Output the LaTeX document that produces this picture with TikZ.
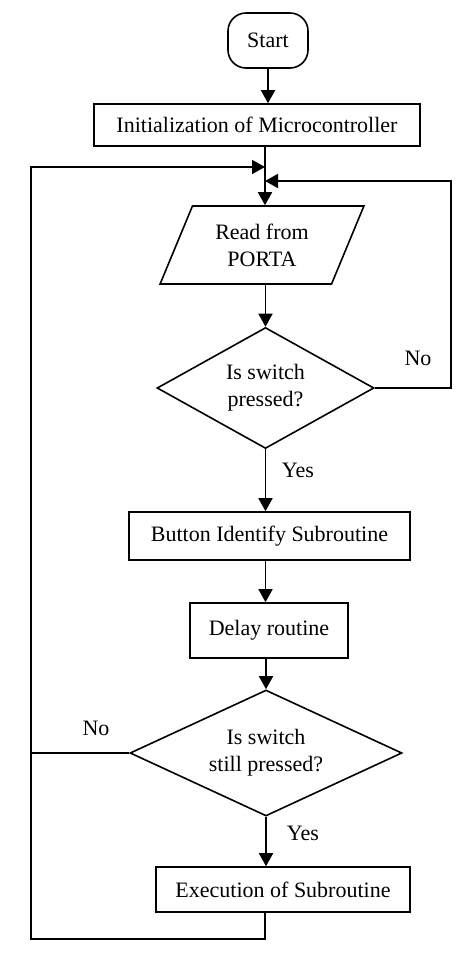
\documentclass[tikz,border=0pt]{standalone}
\usepackage{fontspec}
\setmainfont{Liberation Serif}
\usepackage{tikz}
\usetikzlibrary{shapes.geometric}
\usetikzlibrary{arrows.meta}
\tikzstyle{Block}=[rectangle,draw=black,line width=1.6pt,inner sep=0pt,
font=\fontsize{22}{27}\selectfont,align=center]
\tikzstyle{Terminal}=[Block,rounded corners=18pt]
\tikzstyle{Data}=[Block,trapezium,trapezium left angle=63,
trapezium right angle=117,trapezium stretches=true]
\tikzstyle{Decision}=[Block,diamond]
\tikzstyle{Edge}=[draw=black,line width=1.7pt]
\tikzstyle{Flow}=[Edge,-{Triangle[length=13pt,width=14pt]}]
\tikzstyle{NodeLbl}=[font=\fontsize{22}{27}\selectfont]
\begin{document}
\begin{tikzpicture}[x=1pt,y=-1pt]
            \useasboundingbox(0,0)rectangle(474,967);
            \node[Terminal,minimum width=80pt,minimum height=55pt](Start)
                at(268.00,40.50){Start};
            \node[Block,minimum width=326pt,minimum height=42pt](Init)
                at(257.00,125.00){Initialization of Microcontroller};
            \node[Data,minimum width=204pt,minimum height=78pt](Read)
                at(262.00,245.00){Read from\\PORTA};
            \node[Decision,aspect=1.8,minimum width=217pt,
                minimum height=121pt](Test1)
                at(265.50,388.00){Is switch\\pressed?};
            \node[Block,minimum width=281pt,minimum height=48pt](Ident)
                at(269.50,536.00){Button Identify Subroutine};
            \node[Block,minimum width=158pt,minimum height=55pt](Delay)
                at(269.00,630.50){Delay routine};
            \node[Decision,aspect=2.16,minimum width=272pt,
                minimum height=126pt](Test2)
                at(266.00,753.00){Is switch\\still pressed?};
            \node[Block,minimum width=254pt,minimum height=45pt](Exec)
                at(283.00,889.50){Execution of Subroutine};
            \node[NodeLbl](No1)at(418.00,358.00){No};
            \node[NodeLbl](Yes1)at(298.00,470.00){Yes};
            \node[NodeLbl](No2)at(96.00,728.00){No};
            \node[NodeLbl](Yes2)at(303.00,833.00){Yes};
            \coordinate(Spine)at(265.00,0.00);
            \coordinate(JoinL)at(265.00,167.00);
            \coordinate(JoinR)at(265.00,181.00);
            \coordinate(BackR)at(451.00,388.00);
            \coordinate(BackL)at(31.00,939.00);
            \draw[Flow](Start)--(Start|-Init.north);
            \draw[Flow](Spine|-Init.south)--(Spine|-Read.north);
            \draw[Flow](Test1|-Read.south)--(Test1);
            \draw[Flow](Test1)--(Test1|-Ident.north);
            \draw[Flow](Test1|-Ident.south)--(Test1|-Delay.north);
            \draw[Flow](Test2|-Delay.south)--(Test2);
            \draw[Flow](Test2)--(Test2|-Exec.north);
            \draw[Flow](Test1.east)--(BackR)|-(JoinR);
            \draw[Flow](Spine|-Exec.south)|-(BackL)|-(JoinL);
            \draw[Edge](Test2.west)--(Test2.west-|BackL);
        \end{tikzpicture}
\end{document}
